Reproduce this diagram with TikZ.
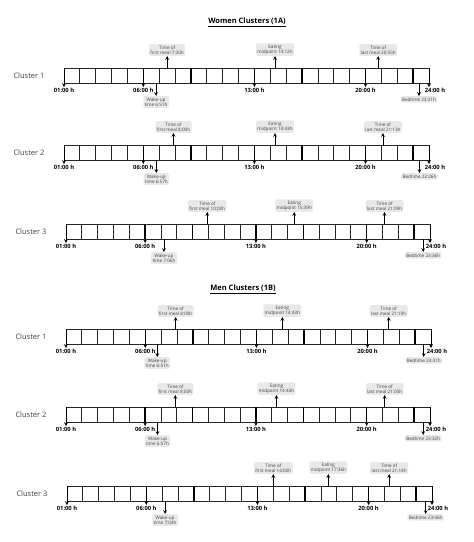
\documentclass[tikz,border=0pt]{standalone}
\usepackage{fontspec}
\setmainfont{Open Sans}
\usetikzlibrary{calc}
\begin{document}
\begin{tikzpicture}[>=stealth, x=1pt, y=-1pt,
	strip/.style={draw=black!85, line width=0.8pt},
	hourlbl/.style={font=\fontsize{5.8}{6.5}\selectfont\bfseries, inner sep=0.5pt},
	evlbl/.style={fill=black!9, rounded corners=1.5pt, align=center,
		font=\fontsize{4.6}{5.2}\selectfont, inner sep=1.4pt, text=black!75},
	cluster/.style={font=\fontsize{7.5}{8.5}\selectfont, text=black!75},
	heading/.style={font=\fontsize{7.5}{9}\selectfont\bfseries}]
	\useasboundingbox (0,0) rectangle (474,542);
	\node[heading] (women) at (247,22) {\underline{Women Clusters (1A)}};
	\node[heading] (men) at (243,289) {\underline{Men Clusters (1B)}};
	% one strip per cluster, 23 hour cells
	\foreach \r/\lx/\rx/\ty/\n in {w1/64/429/68/1, w2/64/429/145/2,
		w3/66/430/224/3, m1/66/431/329/1, m2/66/430/407/2, m3/67/432/486/3}{
		\coordinate (\r-L) at (\lx,\ty);
		\coordinate (\r-R) at (\rx,\ty);
		\coordinate (\r-BL) at (\lx,\ty+15);
		\coordinate (\r-BR) at (\rx,\ty+15);
		\draw[strip] (\r-L) rectangle (\r-BR);
		\foreach \h in {2,...,23}
			\draw[strip] ($(\r-L)!{(\h-1)/23}!(\r-R)$) --
			($(\r-BL)!{(\h-1)/23}!(\r-BR)$);
		\foreach \h in {6,9,13,16,20,23}
			\draw[line width=1.4pt] ($(\r-L)!{(\h-1)/23}!(\r-R)$) --
			($(\r-BL)!{(\h-1)/23}!(\r-BR)$);
		\node[cluster, anchor=east] (\r-name) at ($(\r-L)!0.5!(\r-BL)+(-16,0)$)
			{Cluster \n};
		\foreach \h/\t/\dx in {1/01:00 h/0, 6/06:00 h/0, 13/13:00 h/0,
			20/20:00 h/0, 24/24:00 h/6}{
			\coordinate (\r-t\h) at ($(\r-L)!{(\h-1)/23}!(\r-R)$);
			\node[hourlbl, anchor=north] (\r-h\h)
				at ($(\r-BL)!{(\h-1)/23}!(\r-BR)+(\dx,4)$) {\t};
			\draw[->, line width=0.7pt] (\r-t\h) -- (\r-t\h |- \r-h\h.north);
		}
	}
	% meals, above the strips
	\foreach \r/\h/\t [count=\i] in {
		w1/7.5/Time of\\first meal 7:30h,
		w1/14.3/Eating\\midpoint 14:12h,
		w1/20.8/Time of\\last meal 20:55h,
		w2/7.9/Time of\\first meal 8:00h,
		w2/14.3/Eating\\midpoint 14:43h,
		w2/21.1/Time of\\last meal 21:13h,
		w3/9.93/Time of\\first meal 10:00h,
		w3/15.42/Eating\\midpoint 15:39h,
		w3/21.13/Time of\\last meal 21:09h,
		m1/7.91/Time of\\first meal 8:00h,
		m1/14.63/Eating\\midpoint 14:43h,
		m1/21.33/Time of\\last meal 21:19h,
		m2/7.91/Time of\\first meal 8:00h,
		m2/14.3/Eating\\midpoint 14:43h,
		m2/21.14/Time of\\last meal 21:05h,
		m3/14.0/Time of\\first meal 14:00h,
		m3/17.47/Eating\\midpoint 17:36h,
		m3/21.3/Time of\\last meal 21:14h}{
		\coordinate (\r-u\i) at ($(\r-L)!{(\h-1)/23}!(\r-R)$);
		\node[evlbl, anchor=south] (\r-ul\i) at ($(\r-u\i)+(0,-12)$) {\t};
		\draw[->, line width=0.7pt] (\r-u\i) -- (\r-ul\i.south);
	}
	% wake-up and bedtime, below the strips
	\foreach \r/\h/\t [count=\i] in {
		w1/6.8/Wake-up\\time 6:51h,
		w1/23.37/Bedtime 23:21h,
		w2/6.82/Wake-up\\time 6:57h,
		w2/23.4/Bedtime 23:26h,
		w3/7.19/Wake-up\\time 7:06h,
		w3/23.57/Bedtime 23:36h,
		m1/6.75/Wake-up\\time 6:51h,
		m1/23.54/Bedtime 23:31h,
		m2/6.78/Wake-up\\time 6:57h,
		m2/23.57/Bedtime 23:32h,
		m3/7.18/Wake-up\\time 7:04h,
		m3/23.6/Bedtime 23:46h}{
		\coordinate (\r-d\i) at ($(\r-BL)!{(\h-1)/23}!(\r-BR)$);
		\node[evlbl, anchor=north] (\r-dl\i) at ($(\r-d\i)+(0,13)$) {\t};
		\draw[->, line width=0.7pt] (\r-d\i) -- (\r-dl\i.north);
	}
\end{tikzpicture}
\end{document}
